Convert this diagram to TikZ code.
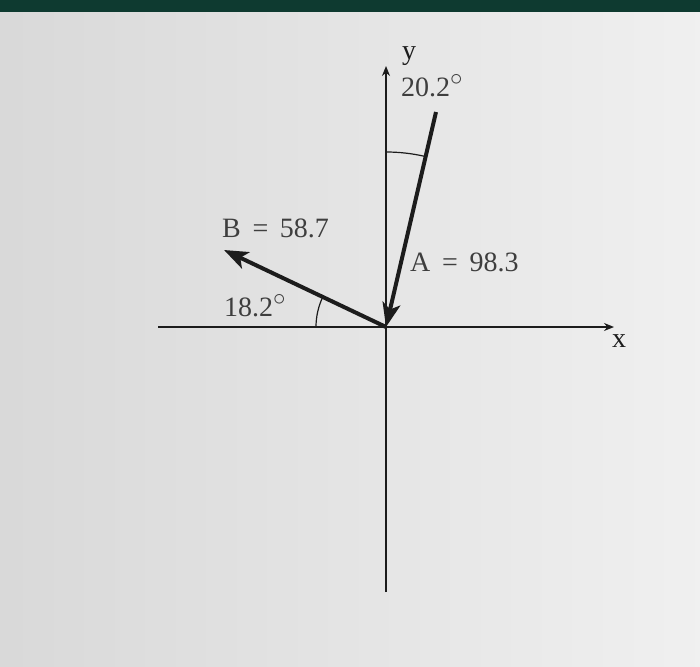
\documentclass[tikz,border=0pt]{standalone}
\usepackage{fontspec}
\setmainfont{Liberation Serif}
\usetikzlibrary{arrows.meta, positioning}
\definecolor{screen}{HTML}{0E3A30}
\definecolor{ink}{HTML}{1C1C1C}
\newcommand{\degsign}{\raisebox{0.36em}{\fontsize{28}{28}\selectfont$\circ$}}
\tikzset{
  axis/.style={-{Stealth[length=10pt,width=8pt]}, line width=1.6pt, ink},
  vec/.style={-{Stealth[length=24pt,width=18pt,inset=6pt]}, line width=4pt, ink},
  lbl/.style={font=\fontsize{28}{30}\selectfont, text=ink!85, inner sep=0pt, anchor=base west}
}
\begin{document}
\begin{tikzpicture}[x=1pt, y=-1pt]
            \useasboundingbox (0,0) rectangle (700,666);
            \shade[left color=gray!30, right color=gray!12] (0,12) rectangle (700,666);
            \fill[screen] (0,0) rectangle (700,12);
            \coordinate (O) at (386,327);
            \coordinate (Atail) at (436,112);
            \coordinate (Btip) at (224,250);
            \coordinate (xl) at (158,327);
            \coordinate (xr) at (614,327);
            \coordinate (yb) at (386,592);
            \coordinate (yt) at (386,66);
            \draw[axis] (xl) -- (xr) node(x)[below right=4pt and -6pt]{\fontsize{28}{30}\selectfont x};
            \draw[axis] (yb) -- (yt) node(y)[above right=-4pt and 12pt]{\fontsize{28}{30}\selectfont y};
            \draw[vec] (Atail) -- (O);
            \draw[vec] (O) -- (Btip);
            \draw[line width=1.2pt, ink] (386,152) arc (-90:-76.9:175);
            \draw[line width=1.2pt, ink] (316,327) arc (180:205.4:70);
            \node[lbl] (Alab) at (410,271) {A\,\ =\,\ 98.3};
            \node[lbl] (Blab) at (222,237) {B\,\ =\,\ 58.7};
            \node[lbl] (Aang) at (401,96) {20.2\degsign};
            \node[lbl] (Bang) at (224,316) {18.2\degsign};
        \end{tikzpicture}
\end{document}
